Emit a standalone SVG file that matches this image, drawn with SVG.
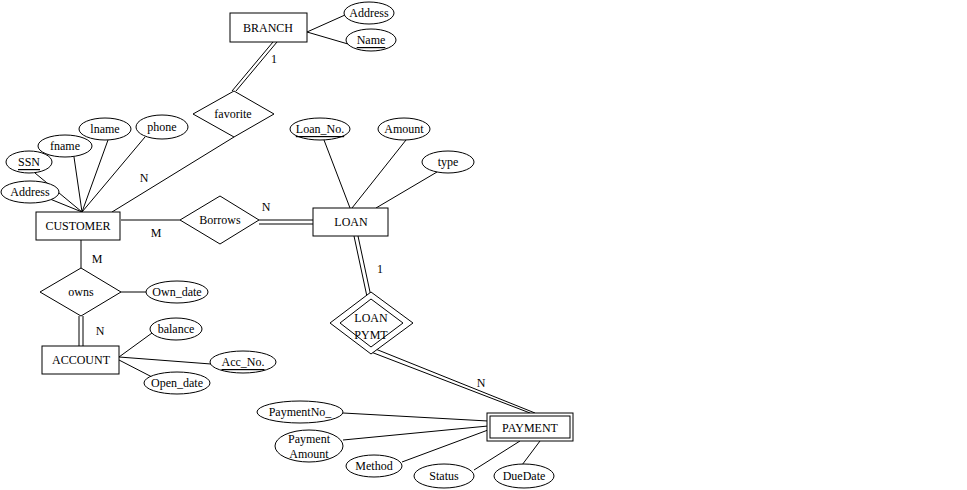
<svg xmlns="http://www.w3.org/2000/svg" width="967" height="490" viewBox="0 0 967 490">
<style>
.s{fill:#fff;stroke:#000;stroke-width:1}
.l{stroke:#000;stroke-width:1;fill:none}
text{font-family:"Liberation Serif",serif;font-size:12px;fill:#000;text-anchor:middle;dominant-baseline:central}
.u{text-decoration:underline}
</style>
<rect width="967" height="490" fill="#fff"/>
<g id="connectors">
<line class="l" x1="307" y1="32" x2="345" y2="15"/>
<line class="l" x1="307" y1="32" x2="348" y2="44"/>
<line class="l" x1="273" y1="42" x2="232" y2="91"/>
<line class="l" x1="277" y1="42" x2="236" y2="91"/>
<line class="l" x1="234" y1="137" x2="112" y2="212"/>
<line class="l" x1="82" y1="212" x2="108" y2="140"/>
<line class="l" x1="82" y1="212" x2="145" y2="137"/>
<line class="l" x1="82" y1="212" x2="74" y2="157"/>
<line class="l" x1="82" y1="212" x2="35" y2="173"/>
<line class="l" x1="82" y1="212" x2="50" y2="199"/>
<line class="l" x1="121" y1="220" x2="180" y2="220"/>
<line class="l" x1="259" y1="220" x2="313" y2="220"/>
<line class="l" x1="259" y1="224" x2="313" y2="224"/>
<line class="l" x1="350" y1="208" x2="324" y2="140"/>
<line class="l" x1="352" y1="208" x2="406" y2="140"/>
<line class="l" x1="376" y1="208" x2="437" y2="172"/>
<line class="l" x1="354" y1="236" x2="369" y2="306"/>
<line class="l" x1="358" y1="236" x2="373" y2="306"/>
<line class="l" x1="371" y1="352" x2="530" y2="413"/>
<line class="l" x1="373" y1="348" x2="535" y2="413"/>
<line class="l" x1="343" y1="413" x2="488" y2="421"/>
<line class="l" x1="343" y1="440" x2="488" y2="426"/>
<line class="l" x1="402" y1="462" x2="488" y2="430"/>
<line class="l" x1="474" y1="470" x2="520" y2="441"/>
<line class="l" x1="522" y1="465" x2="540" y2="441"/>
<line class="l" x1="81" y1="240" x2="81" y2="268"/>
<line class="l" x1="121" y1="292" x2="146" y2="292"/>
<line class="l" x1="79" y1="316" x2="79" y2="346"/>
<line class="l" x1="83" y1="316" x2="83" y2="346"/>
<line class="l" x1="119" y1="357" x2="152" y2="333"/>
<line class="l" x1="119" y1="357" x2="211" y2="364"/>
<line class="l" x1="119" y1="360" x2="152" y2="377"/>
</g>
<g id="branch"><rect class="s" x="230" y="13" width="77" height="29"/><text x="268" y="28">BRANCH</text></g>
<g id="branch_address"><ellipse class="s" cx="369" cy="13" rx="25" ry="11"/><text x="369" y="13">Address</text></g>
<g id="branch_name"><ellipse class="s" cx="371" cy="40" rx="25" ry="11"/><text class="u" x="371" y="40">Name</text></g>
<g id="favorite"><polygon class="s" points="234,91 274,114 234,137 193,114"/><text x="233" y="114">favorite</text></g>
<g id="lname"><ellipse class="s" cx="105" cy="129" rx="26" ry="11"/><text x="105" y="129">lname</text></g>
<g id="phone"><ellipse class="s" cx="162" cy="127" rx="26" ry="12"/><text x="162" y="127">phone</text></g>
<g id="fname"><ellipse class="s" cx="65" cy="146" rx="27" ry="11"/><text x="65" y="146">fname</text></g>
<g id="ssn"><ellipse class="s" cx="29" cy="162" rx="23" ry="11"/><text class="u" x="29" y="162">SSN</text></g>
<g id="cust_address"><ellipse class="s" cx="30" cy="192" rx="29" ry="11"/><text x="30" y="192">Address</text></g>
<g id="customer"><rect class="s" x="36" y="212" width="84" height="28"/><text x="78" y="226">CUSTOMER</text></g>
<g id="borrows"><polygon class="s" points="220,196 259,220 220,244 180,220"/><text x="220" y="220">Borrows</text></g>
<g id="loan"><rect class="s" x="313" y="208" width="75" height="28"/><text x="351" y="222">LOAN</text></g>
<g id="loan_no"><ellipse class="s" cx="320" cy="129" rx="30" ry="11"/><text class="u" x="320" y="129">Loan_No.</text></g>
<g id="amount"><ellipse class="s" cx="404" cy="129" rx="26" ry="11"/><text x="404" y="129">Amount</text></g>
<g id="type"><ellipse class="s" cx="448" cy="162" rx="26" ry="11"/><text x="448" y="162">type</text></g>
<g id="loan_pymt"><polygon class="s" points="371,292 413,323 371,354 330,323"/><polygon class="s" points="371,299 403,323 371,347 340,323"/><text x="371" y="318">LOAN</text><text x="371" y="335">PYMT</text></g>
<g id="payment"><rect class="s" x="487" y="413" width="86" height="28"/><rect class="s" x="490" y="416" width="80" height="22"/><text x="530" y="428">PAYMENT</text></g>
<g id="payment_no"><ellipse class="s" cx="300" cy="412" rx="43" ry="11"/><text x="300" y="412">PaymentNo_</text></g>
<g id="payment_amount"><ellipse class="s" cx="309" cy="446" rx="34" ry="16"/><text x="309" y="439">Payment</text><text x="309" y="454">Amount</text></g>
<g id="method"><ellipse class="s" cx="374" cy="466" rx="28" ry="11"/><text x="374" y="466">Method</text></g>
<g id="status"><ellipse class="s" cx="444" cy="476" rx="30" ry="12"/><text x="444" y="476">Status</text></g>
<g id="duedate"><ellipse class="s" cx="524" cy="476" rx="30" ry="12"/><text x="524" y="476">DueDate</text></g>
<g id="owns"><polygon class="s" points="81,268 121,292 81,316 40,292"/><text x="81" y="292">owns</text></g>
<g id="own_date"><ellipse class="s" cx="177" cy="292" rx="31" ry="11"/><text x="177" y="292">Own_date</text></g>
<g id="account"><rect class="s" x="42" y="346" width="77" height="28"/><text x="81" y="360">ACCOUNT</text></g>
<g id="balance"><ellipse class="s" cx="176" cy="329" rx="26" ry="11"/><text x="176" y="329">balance</text></g>
<g id="acc_no"><ellipse class="s" cx="243" cy="362" rx="33" ry="11"/><text class="u" x="243" y="362">Acc_No.</text></g>
<g id="open_date"><ellipse class="s" cx="177" cy="383" rx="33" ry="11"/><text x="177" y="383">Open_date</text></g>
<g id="labels">
<text x="274" y="59">1</text><text x="144" y="178">N</text><text x="156" y="233">M</text><text x="266" y="207">N</text>
<text x="380" y="269">1</text><text x="481" y="383">N</text><text x="97" y="259">M</text><text x="100" y="331">N</text>
</g>
</svg>
